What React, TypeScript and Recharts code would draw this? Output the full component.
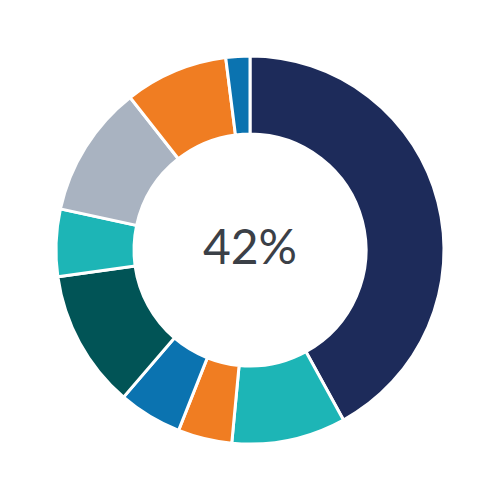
import React from 'react';
import { PieChart, Pie, Cell } from 'recharts';

const labels = ['A', 'B', 'C', 'D', 'E', 'F', 'G', 'H', 'I'];
const values = [42, 9.5, 4.5, 5.3, 11.5, 5.6, 11, 8.6, 2.0];
const colors = ['#1d2b5a', '#1db5b6', '#f07d22', '#0b73b0', '#015456', '#1db5b6', '#a9b3c1', '#f07d22', '#0b73b0'];
const centerLabel = '42%';

const data = labels.map((name, i) => ({ name, value: values[i] }));

export default function App() {
  return (
    <div style={{ position: 'absolute', left: 0, top: 0, width: 500, height: 500 }}>
      <PieChart width={500} height={500} margin={{ top: 0, right: 0, bottom: 0, left: 0 }}>
        <Pie
          data={data}
          dataKey="value"
          cx={250}
          cy={250}
          innerRadius={116}
          outerRadius={194}
          startAngle={90}
          endAngle={-270}
          stroke="#ffffff"
          strokeWidth={3}
          isAnimationActive={false}
        >
          {data.map((d, i) => (
            <Cell key={d.name} fill={colors[i]} />
          ))}
        </Pie>
        <text
          x={250}
          y={245}
          textAnchor="middle"
          dominantBaseline="central"
          fontFamily="Lato, sans-serif"
          fontSize={48}
          fill="#3b4047"
        >
          {centerLabel}
        </text>
      </PieChart>
    </div>
  );
}
